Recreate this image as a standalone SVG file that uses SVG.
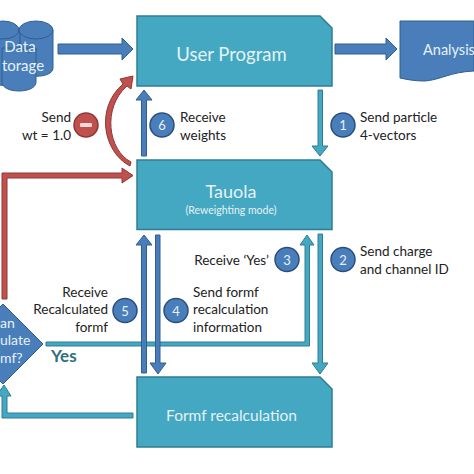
<svg xmlns="http://www.w3.org/2000/svg" width="474" height="474" viewBox="0 0 474 474">
<style>
text{font-family:"Lato","Open Sans","Liberation Sans",sans-serif}
.lbl{font-size:13.5px;fill:#222}
.e{text-anchor:end}
.w{fill:#e4f2f6;text-anchor:middle}
.box{fill:#44a8c2;stroke:#2f7d92;stroke-width:1.5}
.blue{fill:#4a7ebb;stroke:#2f5f92;stroke-width:1}
.teal{fill:#44a8c2;stroke:#2f7d92;stroke-width:1}
.red{fill:#c0504d;stroke:#8c3836;stroke-width:1}
.num{fill:#4a7ebb;stroke:#2a4f7c;stroke-width:1.5}
.n{font-size:13px;fill:#e4f2f6;text-anchor:middle}
</style>
<rect width="474" height="474" fill="#fff"/>
<g id="connectors">
<path class="blue" d="M58 44H122V38L133 49L122 60V54H58Z"/>
<path class="blue" d="M335 44H386V38L397 49L386 60V54H335Z"/>
<path class="teal" d="M318 90H322.500V146H328L320 156L312 146H318Z"/>
<path class="blue" d="M141.500 156V100H136L144 90L152 100H146.500V156Z"/>
<path class="red" d="M2 299V173H122V168L133 175.500L122 183V178H7V299Z"/>
<path class="red" d="M130 166C103 152 95 108 123 84L120 79L133 76L131 89L127 86C102 108 108 150 131 162Z"/>
<path class="teal" d="M46 342H305V245H300L307 235L314 245H309.500V346H46Z"/>
<path class="teal" d="M318 234H322.500V363H328L320 374L312 363H318Z"/>
<path class="blue" d="M141.500 373V245H136L144 235L152 245H146.500V373Z"/>
<path class="blue" d="M155.500 235H160V363H166L158 374L150 363H155.500Z"/>
<path class="teal" d="M133 413V418H2V396H-4L4 385L11 396H7V413Z"/>
</g>
<g id="data-storage">
<path class="blue" d="M-14 30V77C-14 88 20 88 20 77V30Z"/>
<ellipse class="blue" cx="3" cy="30" rx="16" ry="9"/>
<path class="blue" d="M20 30V68C20 79 53 79 53 68V30Z"/>
<ellipse class="blue" cx="36" cy="30" rx="17" ry="9"/>
<path class="blue" d="M2 48V82C2 94 36 94 36 82V48Z"/>
<path d="M20 44C22 54 34 54 36 48" fill="none" stroke="#2f5f92"/>
<text x="20" y="52" class="w" font-size="15">Data</text>
<text x="23" y="71" class="w" font-size="15">torage</text>
</g>
<g id="user-program">
<path class="box" d="M137 16H320L332 28V86H137Z"/>
<text x="231.500" y="61" class="w" font-size="18.500">User Program</text>
</g>
<g id="analysis">
<path class="blue" d="M400 21H474V71C450 72 440 80 425 81C413 81 405 79 400 78Z"/>
<text x="423" y="55" fill="#e4f2f6" font-size="14.500">Analysis</text>
</g>
<g id="tauola">
<path class="box" d="M137 160H320L332 172V229.500H137Z"/>
<text x="231" y="198" class="w" font-size="18">Tauola</text>
<text x="231" y="214" class="w" font-size="10.500">(Reweighting mode)</text>
</g>
<g id="formf-recalculation">
<path class="box" d="M137 377H320L332 389V447H137Z"/>
<text x="231.500" y="421" class="w" font-size="15.500">Formf recalculation</text>
</g>
<g id="can-calculate">
<path class="blue" d="M3 304L43 344L3 384L-37 344Z"/>
<text x="0" y="328" fill="#e4f2f6" font-size="14">an</text>
<text x="0" y="345" fill="#e4f2f6" font-size="14">ulate</text>
<text x="0" y="363" fill="#e4f2f6" font-size="14">mf?</text>
</g>
<text x="51" y="362" font-size="17" font-weight="700" fill="#2f6f80">Yes</text>
<g id="minus">
<circle cx="86" cy="125" r="12" fill="#c0504d" stroke="#8c3836" stroke-width="1.500"/>
<rect x="80" y="123" width="12" height="4" rx="1" fill="#f0d8d8"/>
</g>
<g id="step-6"><circle class="num" cx="162" cy="125" r="12"/><text x="162" y="130" class="n">6</text></g>
<g id="step-1"><circle class="num" cx="343" cy="125" r="12"/><text x="343" y="130" class="n">1</text></g>
<g id="step-2"><circle class="num" cx="343" cy="259.500" r="12"/><text x="343" y="264.500" class="n">2</text></g>
<g id="step-3"><circle class="num" cx="287" cy="259.500" r="12"/><text x="287" y="264.500" class="n">3</text></g>
<g id="step-4"><circle class="num" cx="176" cy="310.500" r="12"/><text x="176" y="315.500" class="n">4</text></g>
<g id="step-5"><circle class="num" cx="125" cy="310.500" r="12"/><text x="125" y="315.500" class="n">5</text></g>
<g id="labels">
<text x="71" y="122" class="lbl e">Send</text>
<text x="71" y="140" class="lbl e">wt = 1.0</text>
<text x="180" y="122" class="lbl">Receive</text>
<text x="180" y="140" class="lbl">weights</text>
<text x="360" y="122" class="lbl">Send particle</text>
<text x="360" y="140" class="lbl">4-vectors</text>
<text x="360" y="256" class="lbl">Send charge</text>
<text x="360" y="274" class="lbl">and channel ID</text>
<text x="269" y="265" class="lbl e">Receive ‘Yes’</text>
<text x="193" y="297" class="lbl">Send formf</text>
<text x="193" y="314" class="lbl">recalculation</text>
<text x="193" y="332" class="lbl">information</text>
<text x="108" y="297" class="lbl e">Receive</text>
<text x="108" y="314" class="lbl e">Recalculated</text>
<text x="108" y="332" class="lbl e">formf</text>
</g>
</svg>
